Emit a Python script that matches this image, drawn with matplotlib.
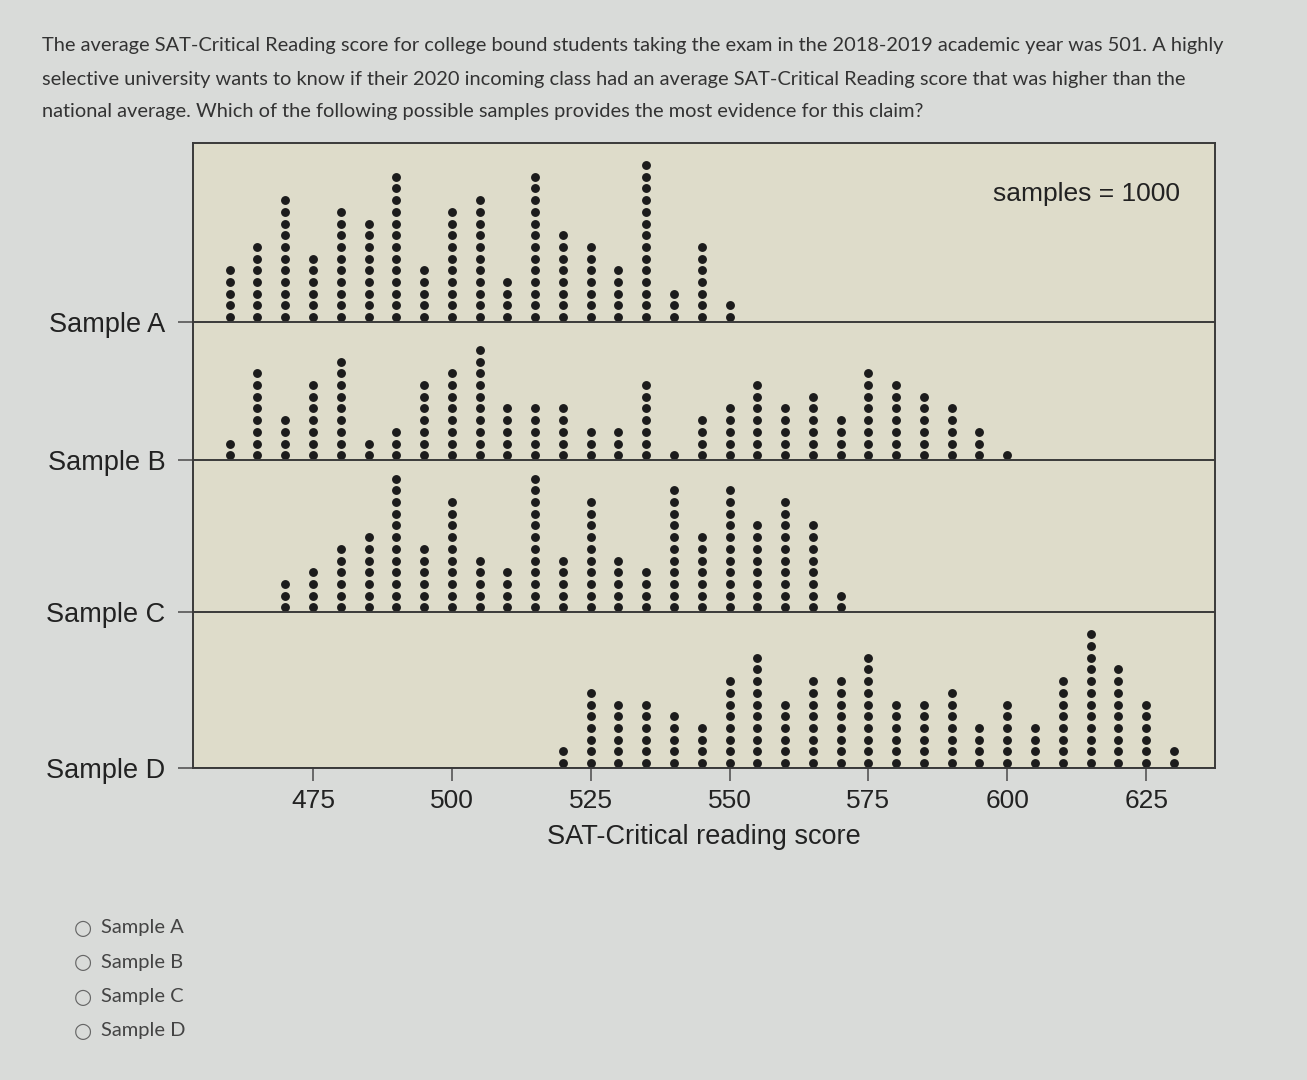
import numpy as np
import matplotlib
matplotlib.use('Agg')
import matplotlib.pyplot as plt

# dot plot data (score -> number of dots in that column)
a_scores = [460, 465, 470, 475, 480, 485, 490, 495, 500, 505, 510, 515, 520, 525, 530, 535, 540, 545, 550]
a_counts = [5, 7, 11, 6, 10, 9, 13, 5, 10, 11, 4, 13, 8, 7, 5, 14, 3, 7, 2]

b_scores = [460, 465, 470, 475, 480, 485, 490, 495, 500, 505, 510, 515, 520, 525, 530, 535, 540, 545, 550,
            555, 560, 565, 570, 575, 580, 585, 590, 595, 600]
b_counts = [2, 8, 4, 7, 9, 2, 3, 7, 8, 10, 5, 5, 5, 3, 3, 7, 1, 4, 5,
            7, 5, 6, 4, 8, 7, 6, 5, 3, 1]

c_scores = [470, 475, 480, 485, 490, 495, 500, 505, 510, 515, 520, 525, 530, 535, 540, 545, 550, 555, 560, 565, 570]
c_counts = [3, 4, 6, 7, 12, 6, 10, 5, 4, 12, 5, 10, 5, 4, 11, 7, 11, 8, 10, 8, 2]

d_scores = [520, 525, 530, 535, 540, 545, 550, 555, 560, 565, 570, 575, 580, 585, 590, 595, 600, 605, 610, 615, 620, 625, 630]
d_counts = [2, 7, 6, 6, 5, 4, 8, 10, 6, 8, 8, 10, 6, 6, 7, 4, 6, 4, 8, 12, 9, 6, 2]

sample_names = ['Sample A', 'Sample B', 'Sample C', 'Sample D']
x_ticks = [475, 500, 525, 550, 575, 600, 625]

question = [
    "The average SAT-Critical Reading score for college bound students taking the exam in the 2018-2019 academic year was 501. A highly",
    "selective university wants to know if their 2020 incoming class had an average SAT-Critical Reading score that was higher than the",
    "national average. Which of the following possible samples provides the most evidence for this claim?",
]

# panel heights in "dot" units, top to bottom
panel_h = [15.3, 11.8, 13.0, 13.3]

fig = plt.figure(figsize=(13.07, 10.8), dpi=100)
fig.patch.set_facecolor('#d9dbd9')

ax = fig.add_axes([193/1307, 1 - 768/1080, 1022/1307, 625/1080])
ax.set_facecolor('#dedcca')

total = sum(panel_h)
bases = []
b = total
for h in panel_h:
    b -= h
    bases.append(b)

data = [(a_scores, a_counts), (b_scores, b_counts), (c_scores, c_counts), (d_scores, d_counts)]
for (xs, cs), base in zip(data, bases):
    px, py = [], []
    for x, c in zip(xs, cs):
        px += [x] * c
        py += list(base + 0.42 + np.arange(c))
    ax.plot(px, py, 'o', color='#1c1c1c', markersize=6.4, markeredgewidth=0)
    if base > 0:
        ax.axhline(base, color='#3a3a3a', lw=1.4)

ax.set_xlim(453.4, 637.4)
ax.set_ylim(0, total)

for s in ax.spines.values():
    s.set_color('#3a3a3a')
    s.set_linewidth(1.4)

ax.set_xticks(x_ticks)
ax.set_xticklabels([str(t) for t in x_ticks], fontsize=19, family='Liberation Sans', color='#222222')
ax.set_yticks(bases)
ax.set_yticklabels(sample_names, fontsize=19.5, family='Liberation Sans', color='#222222')
ax.tick_params(axis='x', length=9, width=1.2, color='#555555', pad=6)
ax.tick_params(axis='y', length=11, width=1.2, color='#555555', pad=9)
ax.set_xlabel('SAT-Critical reading score', fontsize=19.5, family='Liberation Sans',
              color='#222222', labelpad=8)

ax.text(0.874, 0.918, 'samples = 1000', transform=ax.transAxes, ha='center', va='center',
        fontsize=19, family='Liberation Sans', color='#222222')

# question text
for i, line in enumerate(question):
    fig.text(42/1307, 1 - (46 + 33*i)/1080, line, ha='left', va='center',
             fontsize=14.4, family='Lato', color='#333333')

# answer options
for i, name in enumerate(sample_names):
    y = 1 - (928 + 34.3*i)/1080
    fig.text(83/1307, y, '\u25cb', ha='center', va='center', fontsize=15,
             family='DejaVu Sans', color='#666666')
    fig.text(101/1307, y, name, ha='left', va='center', fontsize=14.5,
             family='Lato', color='#444444')

fig.savefig('out.png', dpi=100, facecolor=fig.get_facecolor())
